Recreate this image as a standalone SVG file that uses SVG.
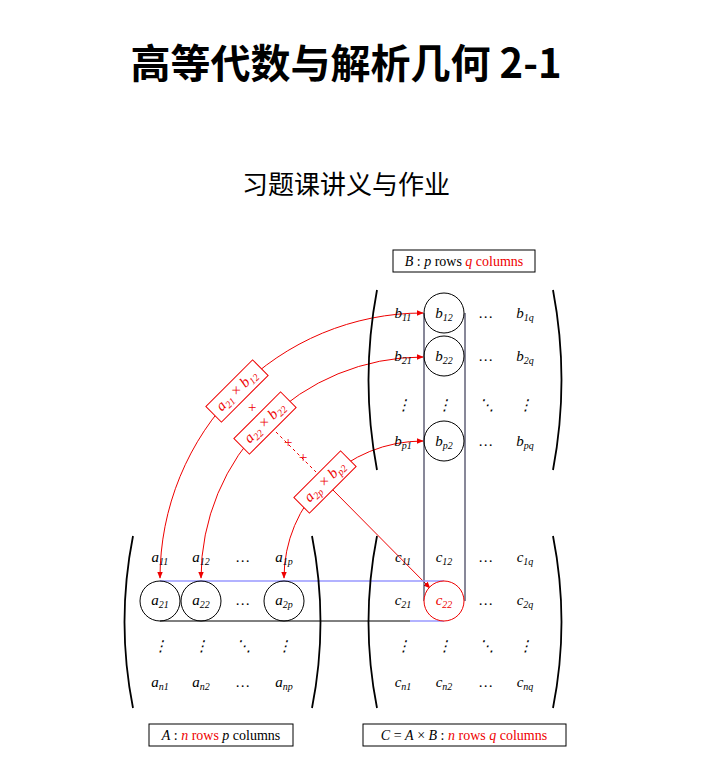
<svg xmlns="http://www.w3.org/2000/svg" width="704" height="772" viewBox="0 0 704 772">
<style>
text{font-family:"Liberation Serif","Noto Sans CJK SC",serif;fill:#000}
.m{font-size:15px;text-anchor:middle;font-style:italic}
.r{fill:#e00}
.s{font-size:10px}
.c{fill:none;stroke:#000;stroke-width:1}
.p{fill:none;stroke:#000;stroke-width:1.8}
.red{fill:none;stroke:#e00;stroke-width:1}
.lb{font-size:14px;text-anchor:middle}
</style>
<defs>
<marker id="ar" viewBox="0 0 10 10" refX="9" refY="5" markerWidth="7" markerHeight="7" orient="auto-start-reverse"><path d="M0,1L10,5L0,9z" fill="#e00"/></marker>
</defs>
<text x="346" y="78" font-size="40" font-weight="bold" text-anchor="middle" style="font-family:'Noto Sans CJK SC','Liberation Serif',serif">高等代数与解析几何 2-1</text>
<text x="346" y="194" font-size="26" text-anchor="middle" style="font-family:'Noto Sans CJK SC',serif">习题课讲义与作业</text>

<g id="connectors">
<path class="red" d="M160 578 A263 265 0 0 1 423 313" marker-start="url(#ar)" marker-end="url(#ar)"/>
<path class="red" d="M201 578 A222 221 0 0 1 423 357" marker-start="url(#ar)" marker-end="url(#ar)"/>
<path class="red" d="M284 578 A139 137 0 0 1 423 441" marker-start="url(#ar)" marker-end="url(#ar)"/>
<line class="red" x1="331" y1="488" x2="430" y2="588" marker-end="url(#ar)"/>
<line class="red" x1="276" y1="432" x2="316" y2="472" stroke-dasharray="3 3"/>
</g>

<g id="tubes">
<path d="M424 313 V601" stroke="#113" fill="none"/>
<path d="M465 313 V601" stroke="#113" fill="none"/>
<path d="M160 581 H444" stroke="#99f" stroke-width="1.5" fill="none"/>
<path d="M160 621 H410" stroke="#000" fill="none"/>
<path d="M410 621 H444" stroke="#99f" stroke-width="1.5" fill="none"/>
</g>

<g id="B">
<rect x="393" y="250" width="142" height="22" fill="#fff" stroke="#000"/>
<text x="464" y="266" class="lb"><tspan font-style="italic">B</tspan> : <tspan font-style="italic">p</tspan> rows <tspan class="r" font-style="italic">q</tspan><tspan class="r"> columns</tspan></text>
<path class="p" d="M377 290 Q360 380 377 470"/><path class="p" d="M553 290 Q570 380 553 470"/>
<circle class="c" cx="444" cy="313" r="20" fill="#fff"/><circle class="c" cx="444" cy="356" r="20" fill="#fff"/><circle class="c" cx="444" cy="441" r="20" fill="#fff"/>
<text class="m" x="403" y="318">b<tspan class="s" dy="3">11</tspan></text>
<text class="m" x="444" y="318">b<tspan class="s" dy="3">12</tspan></text>
<text class="m" x="486" y="318">…</text>
<text class="m" x="525" y="318">b<tspan class="s" dy="3">1q</tspan></text>
<text class="m" x="403" y="361">b<tspan class="s" dy="3">21</tspan></text>
<text class="m" x="444" y="361">b<tspan class="s" dy="3">22</tspan></text>
<text class="m" x="486" y="361">…</text>
<text class="m" x="525" y="361">b<tspan class="s" dy="3">2q</tspan></text>
<text class="m" x="403" y="410">⋮</text><text class="m" x="444" y="410">⋮</text><text class="m" x="486" y="410">⋱</text><text class="m" x="525" y="410">⋮</text>
<text class="m" x="403" y="446">b<tspan class="s" dy="3">p1</tspan></text>
<text class="m" x="444" y="446">b<tspan class="s" dy="3">p2</tspan></text>
<text class="m" x="486" y="446">…</text>
<text class="m" x="525" y="446">b<tspan class="s" dy="3">pq</tspan></text>
</g>

<g id="A">
<rect x="149" y="724" width="144" height="22" fill="#fff" stroke="#000"/>
<text x="221" y="740" class="lb"><tspan font-style="italic">A</tspan> : <tspan class="r" font-style="italic">n</tspan><tspan class="r"> rows</tspan> <tspan font-style="italic">p</tspan> columns</text>
<path class="p" d="M133 536 Q116 622 133 708"/><path class="p" d="M312 536 Q329 622 312 708"/>
<circle class="c" cx="160" cy="601" r="20" fill="#fff"/><circle class="c" cx="201" cy="601" r="20" fill="#fff"/><circle class="c" cx="284" cy="601" r="20" fill="#fff"/>
<text class="m" x="160" y="562">a<tspan class="s" dy="3">11</tspan></text>
<text class="m" x="201" y="562">a<tspan class="s" dy="3">12</tspan></text>
<text class="m" x="243" y="562">…</text>
<text class="m" x="284" y="562">a<tspan class="s" dy="3">1p</tspan></text>
<text class="m" x="160" y="605">a<tspan class="s" dy="3">21</tspan></text>
<text class="m" x="201" y="605">a<tspan class="s" dy="3">22</tspan></text>
<text class="m" x="243" y="605">…</text>
<text class="m" x="284" y="605">a<tspan class="s" dy="3">2p</tspan></text>
<text class="m" x="160" y="651">⋮</text><text class="m" x="201" y="651">⋮</text><text class="m" x="243" y="651">⋱</text><text class="m" x="284" y="651">⋮</text>
<text class="m" x="160" y="687">a<tspan class="s" dy="3">n1</tspan></text>
<text class="m" x="201" y="687">a<tspan class="s" dy="3">n2</tspan></text>
<text class="m" x="243" y="687">…</text>
<text class="m" x="284" y="687">a<tspan class="s" dy="3">np</tspan></text>
</g>

<g id="C">
<rect x="363" y="724" width="203" height="22" fill="#fff" stroke="#000"/>
<text x="464" y="740" class="lb"><tspan font-style="italic">C</tspan> = <tspan font-style="italic">A</tspan> × <tspan font-style="italic">B</tspan> : <tspan class="r" font-style="italic">n</tspan><tspan class="r"> rows </tspan><tspan class="r" font-style="italic">q</tspan><tspan class="r"> columns</tspan></text>
<path class="p" d="M377 536 Q360 622 377 708"/><path class="p" d="M553 536 Q570 622 553 708"/>
<circle cx="444" cy="601" r="20" fill="#fff" stroke="#e00"/>
<text class="m" x="403" y="562">c<tspan class="s" dy="3">11</tspan></text>
<text class="m" x="444" y="562">c<tspan class="s" dy="3">12</tspan></text>
<text class="m" x="486" y="562">…</text>
<text class="m" x="525" y="562">c<tspan class="s" dy="3">1q</tspan></text>
<text class="m" x="403" y="605">c<tspan class="s" dy="3">21</tspan></text>
<text class="m r" x="444" y="605">c<tspan class="s" dy="3">22</tspan></text>
<text class="m" x="486" y="605">…</text>
<text class="m" x="525" y="605">c<tspan class="s" dy="3">2q</tspan></text>
<text class="m" x="403" y="651">⋮</text><text class="m" x="444" y="651">⋮</text><text class="m" x="486" y="651">⋱</text><text class="m" x="525" y="651">⋮</text>
<text class="m" x="403" y="687">c<tspan class="s" dy="3">n1</tspan></text>
<text class="m" x="444" y="687">c<tspan class="s" dy="3">n2</tspan></text>
<text class="m" x="486" y="687">…</text>
<text class="m" x="525" y="687">c<tspan class="s" dy="3">nq</tspan></text>
</g>

<g id="products">
<g transform="translate(237,391) rotate(-45)"><rect x="-33" y="-11" width="66" height="22" fill="#fff" stroke="#e00"/><text class="m r" x="0" y="4">a<tspan class="s" dy="3">21</tspan><tspan dy="-3" font-style="normal"> × </tspan>b<tspan class="s" dy="3">12</tspan></text></g>
<text class="m r" x="252" y="412" font-style="normal">+</text>
<g transform="translate(265,423) rotate(-45)"><rect x="-33" y="-11" width="66" height="22" fill="#fff" stroke="#e00"/><text class="m r" x="0" y="4">a<tspan class="s" dy="3">22</tspan><tspan dy="-3" font-style="normal"> × </tspan>b<tspan class="s" dy="3">22</tspan></text></g>
<text class="m r" x="288" y="447" font-style="normal">+</text>
<text class="m r" x="303" y="462" font-style="normal">+</text>
<g transform="translate(325,482) rotate(-45)"><rect x="-33" y="-11" width="66" height="22" fill="#fff" stroke="#e00"/><text class="m r" x="0" y="4">a<tspan class="s" dy="3">2p</tspan><tspan dy="-3" font-style="normal"> × </tspan>b<tspan class="s" dy="3">p2</tspan></text></g>
</g>
</svg>
